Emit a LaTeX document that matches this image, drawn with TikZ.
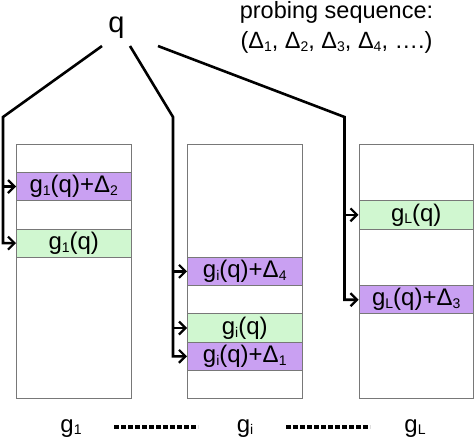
\documentclass[tikz,border=0pt]{standalone}
\usepackage{fontspec}
\setmainfont{Liberation Sans}
\usetikzlibrary{arrows.meta}
\definecolor{purp}{RGB}{201,160,242}
\definecolor{lgrn}{RGB}{208,247,208}
\definecolor{edgegray}{RGB}{120,120,120}
\newcommand{\lowsub}[1]{\raisebox{-0.12em}{\fontsize{14}{14}\selectfont #1}}
\tikzset{
  tablebox/.style={draw=edgegray, line width=1pt, minimum width=114.5pt, minimum height=254pt, inner sep=0pt, anchor=north west},
  cell/.style={draw=edgegray, line width=0.9pt, minimum width=114.5pt, minimum height=28.3pt, inner sep=0pt, font=\fontsize{24}{24}\selectfont},
  pcell/.style={cell, fill=purp},
  gcell/.style={cell, fill=lgrn},
  conn/.style={line width=2.6pt, line join=miter},
  arr/.style={conn, -{Straight Barb[length=6.5pt,width=13pt,line width=2.2pt]}},
  dotsline/.style={line width=3.6pt, dash pattern=on 4.6pt off 2.4pt},
  lbl/.style={inner sep=0pt, anchor=base}
}
\begin{document}
\begin{tikzpicture}[x=1pt,y=-1pt]
\useasboundingbox (0,0) rectangle (474,440);
% tables
\node[tablebox] (b1) at (16,144) {};
\node[tablebox] (b2) at (187,144) {};
\node[tablebox] (b3) at (358.5,144) {};
% cells
\node[pcell] (c1a) at (b1.north |- 0,186.5) {g\lowsub{1}(q)+Δ\lowsub{2}};
\node[gcell] (c1b) at (b1.north |- 0,243.1) {g\lowsub{1}(q)};
\node[pcell] (c2a) at (b2.north |- 0,271.4) {g\lowsub{i}(q)+Δ\lowsub{4}};
\node[gcell] (c2b) at (b2.north |- 0,328.0) {g\lowsub{i}(q)};
\node[pcell] (c2c) at (b2.north |- 0,356.3) {g\lowsub{i}(q)+Δ\lowsub{1}};
\node[gcell] (c3a) at (b3.north |- 0,214.8) {g\lowsub{L}(q)};
\node[pcell] (c3b) at (b3.north |- 0,299.7) {g\lowsub{L}(q)+Δ\lowsub{3}};
% query
\node[lbl, font=\fontsize{29}{29}\selectfont] (q) at (116.5,32) {q};
\node[lbl, font=\fontsize{23.5}{23.5}\selectfont] (ps1) at (336.5,18) {probing sequence:};
\node[lbl, font=\fontsize{23.5}{23.5}\selectfont] (ps2) at (336.5,48.5) {(Δ\lowsub{1}, Δ\lowsub{2}, Δ\lowsub{3}, Δ\lowsub{4}, ….)};
% connector coordinates
\coordinate (s1) at (102,46);
\coordinate (s2) at (130,46);
\coordinate (s3) at (158,46);
\coordinate (k1) at (3,117);
\coordinate (k2) at (173,117);
\coordinate (k3) at (344.5,117);
% connectors
\draw[arr] (s1) -- (k1) |- (c1b.west);
\draw[arr] (k1 |- c1a.west) -- (c1a.west);
\draw[arr] (s2) -- (k2) |- (c2c.west);
\draw[arr] (k2 |- c2a.west) -- (c2a.west);
\draw[arr] (k2 |- c2b.west) -- (c2b.west);
\draw[arr] (s3) -- (k3) |- (c3b.west);
\draw[arr] (k3 |- c3a.west) -- (c3a.west);
% bottom labels
\node[lbl, font=\fontsize{24}{24}\selectfont] (g1) at (71,432) {g\lowsub{1}};
\node[lbl, font=\fontsize{24}{24}\selectfont] (gi) at (245,432) {g\lowsub{i}};
\node[lbl, font=\fontsize{24}{24}\selectfont] (gL) at (415,432) {g\lowsub{L}};
\coordinate (d1a) at (114,427);
\coordinate (d1b) at (198,427);
\coordinate (d2a) at (286,427);
\coordinate (d2b) at (370,427);
\draw[dotsline] (d1a) -- (d1b);
\draw[dotsline] (d2a) -- (d2b);
\end{tikzpicture}
\end{document}
